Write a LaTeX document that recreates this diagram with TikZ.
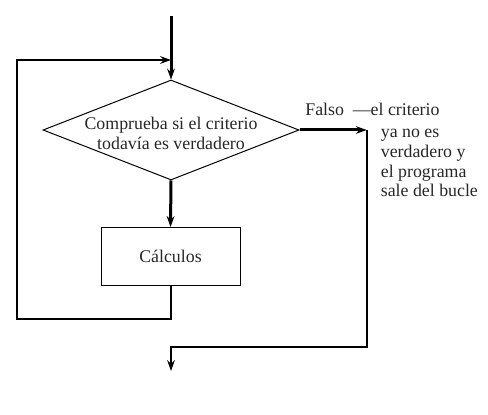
\documentclass[tikz,border=0pt]{standalone}
\usepackage{fontspec}
\setmainfont{Liberation Serif}
\newfontfamily\diagfont{Liberation Serif}
\usetikzlibrary{shapes.geometric,arrows.meta,positioning}

\begin{document}
\begin{tikzpicture}[
    x=0.6pt, y=-0.6pt,
    >={Stealth[length=6.5pt,width=4.6pt]},
    test/.style={diamond, draw, line width=0.6pt, minimum width=153.6pt, minimum height=60pt, inner sep=0pt},
    box/.style={rectangle, draw, line width=0.6pt, minimum width=83.4pt, minimum height=34.8pt, inner sep=0pt},
    txt/.style={font=\diagfont\fontsize{10.7}{11.8}\selectfont, text=black!85, inner sep=0pt, align=center},
    note/.style={txt, align=left},
    flow/.style={->, line width=1.8pt},
    loop/.style={line width=1.2pt},
]
\useasboundingbox (0,0) rectangle (488,415);

\node[test] (CHK) at (171,130) {};
\node[txt, anchor=base] (CHKT) at (171,149.3) {Comprueba si el criterio\\todavía es verdadero};
\node[box] (CALC) at (170.5,256.5) {};
\node[txt] (CALCT) at (CALC) {Cálculos};

\coordinate (IN) at (171,16);
\coordinate (LB) at (17.3,319.5);
\coordinate (LT) at (17.3,60);
\coordinate (MRG) at (171,60);
\coordinate (EXC) at (366.7,130);
\coordinate (EXB) at (366.7,346.7);
\coordinate (OUT) at (171,371);

\draw[flow] (IN) -- (CHK.north);
\draw[flow] (CHK.south) -- (CALC.north);
\draw[loop, ->] (CALC.south) |- (LB) -- (LT) -- (MRG);

\draw[flow] (CHK.east) -- (EXC);
\draw[loop, ->] (EXC) -- (EXB) -| (OUT);

% salida del bucle
\node[txt, anchor=base west] (FALSO) at (305,116) {Falso};
\node[txt, anchor=base west] (DASH) at (352.5,116) {—el criterio};
\node[note, anchor=base west] (WHY) at (380.5,197) {ya no es\\verdadero y\\el programa\\sale del bucle};
\end{tikzpicture}
\end{document}
